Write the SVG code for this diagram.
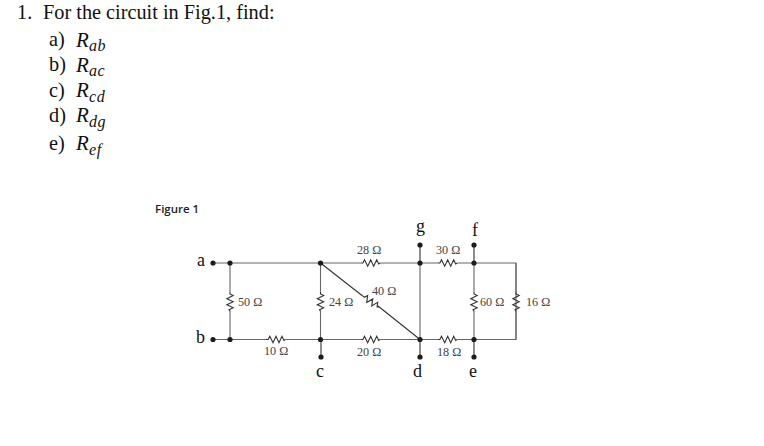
<svg xmlns="http://www.w3.org/2000/svg" width="764" height="446" viewBox="0 0 764 446">
<style>
text{font-family:"Liberation Serif","Times New Roman",serif;fill:#111}
.q{font-size:20.3px}
.r{font-size:21px;font-style:italic}
.s{font-size:16px;font-style:italic;letter-spacing:.6px}
.fig{font-family:"Open Sans","Liberation Sans",sans-serif;font-size:11.5px;font-weight:600;fill:#222}
.v{font-size:12.2px;fill:#444}
.n{font-size:18px}
.w{fill:none;stroke:#666;stroke-width:1.1}
.k{fill:none;stroke:#333;stroke-width:1.1}
.d{fill:#1c1c1c}
</style>
<defs>
<path id="zz" class="k" d="M0 0L2.2 0L3.8 -3.2L7 3.2L10 -3.2L13 3.2L16 -3.2L18 1L19.500 0"/>
<circle id="dot" class="d" r="2.6"/>
</defs>
<rect width="764" height="446" fill="#fff"/>
<g id="question">
<text class="q" x="17" y="19">1.</text><text class="q" x="43" y="19">For the circuit in Fig.1, find:</text>
<text class="q" x="49" y="46">a)</text><text class="r" x="76" y="47">R</text><text class="s" x="89" y="51">ab</text>
<text class="q" x="49" y="71">b)</text><text class="r" x="76" y="72">R</text><text class="s" x="89" y="76">ac</text>
<text class="q" x="49" y="97">c)</text><text class="r" x="76" y="97">R</text><text class="s" x="89" y="102">cd</text>
<text class="q" x="49" y="122">d)</text><text class="r" x="76" y="122">R</text><text class="s" x="89" y="127">dg</text>
<text class="q" x="49" y="150">e)</text><text class="r" x="76" y="150">R</text><text class="s" x="89" y="155">ef</text>
<text class="fig" x="155" y="213">Figure 1</text>
</g>
<g id="connectors">
<path class="w" d="M213 263H360.700M380.200 263H437.700M457.200 263H516V339.500H457.200M437.700 339.500H380.200M360.700 339.500H285.600M266 339.500H213"/>
<path class="w" d="M230 263V291.700M230 311V339.500M320.500 263V291.700M320.500 311V339.500M420 263V339.500M474 263V291.700M474 311V339.500M516 291.700V263M516 311V339.500"/>
<path class="k" d="M420 245V263M474 245V263M420 339.500V357M474 339.500V357M321 339.500V357"/>
<path class="k" d="M320.500 263L362.700 296M377.700 305.700L420 339.500"/>
<use href="#zz" transform="translate(266 339.500)"/>
<use href="#zz" transform="translate(360.700 263)"/>
<use href="#zz" transform="translate(437.700 263)"/>
<use href="#zz" transform="translate(360.700 339.500)"/>
<use href="#zz" transform="translate(437.700 339.500)"/>
<use href="#zz" transform="translate(230 291.700) rotate(90)"/>
<use href="#zz" transform="translate(320.500 291.700) rotate(90)"/>
<use href="#zz" transform="translate(474 291.700) rotate(90)"/>
<use href="#zz" transform="translate(516 291.700) rotate(90)"/>
<use href="#zz" transform="translate(362.700 296) rotate(34)"/>
</g>
<g id="node-a"><use href="#dot" x="213" y="263"/><text class="n" x="197" y="266">a</text></g>
<g id="node-b"><use href="#dot" x="213" y="339.500"/><text class="n" x="196" y="343">b</text></g>
<g id="node-c"><use href="#dot" x="321" y="357"/><text class="n" x="316" y="377">c</text></g>
<g id="node-d"><use href="#dot" x="420" y="357"/><text class="n" x="413" y="377">d</text></g>
<g id="node-e"><use href="#dot" x="474" y="357"/><text class="n" x="469" y="377">e</text></g>
<g id="node-f"><use href="#dot" x="474" y="245"/><text class="n" x="472" y="236">f</text></g>
<g id="node-g"><use href="#dot" x="420" y="245"/><text class="n" x="416" y="232">g</text></g>
<g id="junctions">
<use href="#dot" x="230" y="263"/><use href="#dot" x="230" y="339.500"/>
<use href="#dot" x="320.500" y="263"/><use href="#dot" x="320.500" y="339.500"/>
<use href="#dot" x="420" y="263"/><use href="#dot" x="420" y="339.500"/>
<use href="#dot" x="474" y="263"/><use href="#dot" x="474" y="339.500"/>
</g>
<g id="values">
<text class="v" x="238" y="306">50 Ω</text>
<text class="v" x="264" y="355">10 Ω</text>
<text class="v" x="329" y="306">24 Ω</text>
<text class="v" x="357" y="254">28 Ω</text>
<text class="v" x="372" y="295">40 Ω</text>
<text class="v" x="357" y="356">20 Ω</text>
<text class="v" x="436" y="254">30 Ω</text>
<text class="v" x="437" y="356">18 Ω</text>
<text class="v" x="480" y="306">60 Ω</text>
<text class="v" x="526" y="306">16 Ω</text>
</g>
</svg>
